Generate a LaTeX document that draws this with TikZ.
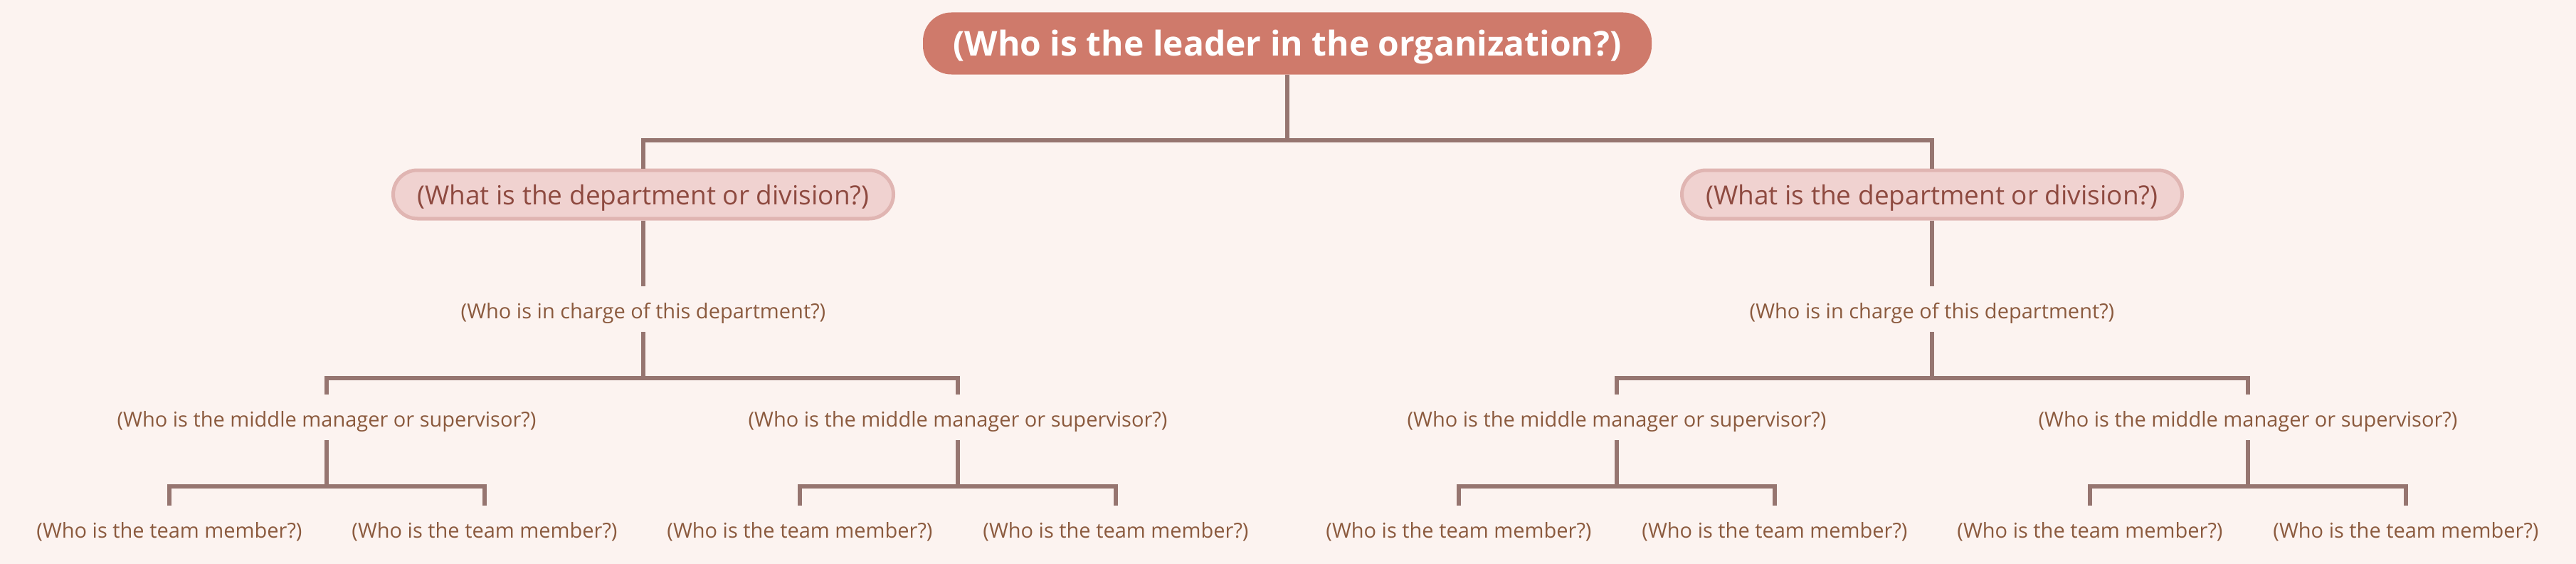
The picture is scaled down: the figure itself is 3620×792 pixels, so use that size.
\documentclass[tikz,border=0pt]{standalone}
\usepackage{fontspec}
\setmainfont{Open Sans}
\usetikzlibrary{positioning}
\definecolor{paper}{HTML}{FCF3F0}
\definecolor{RootRed}{HTML}{CF7A6B}
\definecolor{DeptPink}{HTML}{F0D2D0}
\definecolor{DeptEdge}{HTML}{E0B5B2}
\definecolor{DeptText}{HTML}{8E4A40}
\definecolor{LinkGrey}{HTML}{967570}
\definecolor{LabelBrown}{HTML}{8B5A3E}

\tikzset{
    rootbox/.style={fill=RootRed, text=white, rounded corners=40,
        minimum width=1024, minimum height=87, inner sep=0,
        text height=35pt, text depth=0pt,
        font=\fontsize{48}{56}\selectfont\bfseries},
    deptbox/.style={fill=DeptPink, draw=DeptEdge, line width=5, text=DeptText,
        rounded corners=34, minimum width=703, minimum height=68, inner sep=0,
        text height=29pt, text depth=0pt,
        font=\fontsize{37}{44}\selectfont},
    label/.style={text=LabelBrown, inner sep=0, minimum height=64,
        text height=27pt, text depth=0pt,
        font=\fontsize{29}{34}\selectfont},
    link/.style={draw=LinkGrey, line width=6}
}

\begin{document}
\begin{tikzpicture}[x=1pt, y=-1pt]

\fill[paper] (0,0) rectangle (3620,792);
\useasboundingbox (0,0) rectangle (3620,792);

% top level
\node[rootbox] (root) at (1809,61) {(Who is the leader in the organization?)};

\node[deptbox] (deptL) at (904,273) {(What is the department or division?)};
\node[deptbox] (deptR) at (2715,273) {(What is the department or division?)};

\node[label] (headL) at (904,434) {(Who is in charge of this department?)};
\node[label] (headR) at (2715,434) {(Who is in charge of this department?)};

% middle managers
\node[label] (midA) at (459,586) {(Who is the middle manager or supervisor?)};
\node[label] (midB) at (1346,586) {(Who is the middle manager or supervisor?)};
\node[label] (midC) at (2272,586) {(Who is the middle manager or supervisor?)};
\node[label] (midD) at (3159,586) {(Who is the middle manager or supervisor?)};

% team members
\node[label] (teamA1) at (238,742) {(Who is the team member?)};
\node[label] (teamA2) at (681,742) {(Who is the team member?)};
\node[label] (teamB1) at (1124,742) {(Who is the team member?)};
\node[label] (teamB2) at (1568,742) {(Who is the team member?)};
\node[label] (teamC1) at (2050,742) {(Who is the team member?)};
\node[label] (teamC2) at (2494,742) {(Who is the team member?)};
\node[label] (teamD1) at (2937,742) {(Who is the team member?)};
\node[label] (teamD2) at (3381,742) {(Who is the team member?)};

% junctions
\coordinate (jRoot) at (1809,197);
\coordinate (jHeadL) at (904,531);
\coordinate (jHeadR) at (2715,531);
\coordinate (jMidA) at (459,683);
\coordinate (jMidB) at (1346,683);
\coordinate (jMidC) at (2272,683);
\coordinate (jMidD) at (3159,683);

\draw[link] (root.south) -- (jRoot) -| (deptL.north);
\draw[link] (jRoot) -| (deptR.north);

\draw[link] (deptL.south) -- (headL.north);
\draw[link] (deptR.south) -- (headR.north);

\draw[link] (headL.south) -- (jHeadL) -| (midA.north);
\draw[link] (jHeadL) -| (midB.north);
\draw[link] (headR.south) -- (jHeadR) -| (midC.north);
\draw[link] (jHeadR) -| (midD.north);

\draw[link] (midA.south) -- (jMidA) -| (teamA1.north);
\draw[link] (jMidA) -| (teamA2.north);
\draw[link] (midB.south) -- (jMidB) -| (teamB1.north);
\draw[link] (jMidB) -| (teamB2.north);
\draw[link] (midC.south) -- (jMidC) -| (teamC1.north);
\draw[link] (jMidC) -| (teamC2.north);
\draw[link] (midD.south) -- (jMidD) -| (teamD1.north);
\draw[link] (jMidD) -| (teamD2.north);

\end{tikzpicture}
\end{document}
